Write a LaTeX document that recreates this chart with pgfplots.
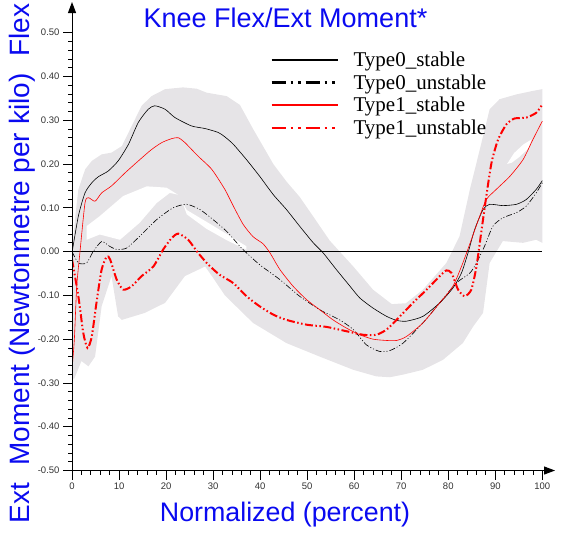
\documentclass[border=0pt]{standalone}
\usepackage{fontspec}
\setmainfont{Liberation Sans}
\newfontfamily\legfont{Liberation Serif}
\usepackage{pgfplots}
\pgfplotsset{compat=1.18}
\usetikzlibrary{arrows.meta}

\definecolor{band}{RGB}{230,228,231}
\definecolor{ttl}{RGB}{10,10,240}

\begin{document}
\begin{tikzpicture}
\begin{axis}[
    scale only axis,
    width=483pt, height=468.5pt,
    xmin=0, xmax=102.7,
    ymin=-0.5, ymax=0.57,
    axis lines=left,
    axis on top,
    axis line style={line width=1pt,-{Triangle[length=11pt,width=8pt]}},
    tick align=outside,
    major tick length=9pt, minor tick length=4pt,
    tick style={black, line width=0.8pt},
    xtick={0,10,20,30,40,50,60,70,80,90,100},
    ytick={-0.5,-0.4,-0.3,-0.2,-0.1,0,0.1,0.2,0.3,0.4,0.5},
    minor x tick num=4, minor y tick num=4,
    /pgf/number format/assume math mode=true,
    yticklabel style={/pgf/number format/.cd, fixed, fixed zerofill, precision=2},
    ticklabel style={font=\fontsize{9.5}{10}\selectfont, text=black!80},
    title={Knee Flex/Ext Moment*},
    title style={at={(axis description cs:0.442,0.954)}, anchor=center, font=\fontsize{27}{29}\selectfont, text=ttl},
    xlabel={Normalized (percent)},
    xlabel style={at={(axis description cs:0.441,-0.093)}, anchor=center, font=\fontsize{26.8}{28}\selectfont, text=ttl},
    ylabel={Ext\hspace{17pt}Moment (Newtonmetre per kilo)\hspace{17pt}Flex},
    ylabel style={at={(axis description cs:-0.1035,0.442)}, anchor=center, rotate=0, font=\fontsize{28}{30}\selectfont, text=ttl},
    legend style={at={(axis description cs:0.404,0.902)}, anchor=north west, draw=none, fill=none,
        font=\legfont\fontsize{21}{23}\selectfont, row sep=2.5pt},
    legend cell align=left,
    legend image code/.code={\draw[#1] (0pt,0pt) -- (66pt,0pt); \path[draw=none, fill=none] (0pt,0pt) rectangle (80pt,0.1pt);},
]
% grey envelope
\addplot[draw=none, fill=band, forget plot] coordinates {
(0,0.0)(0.7,0.08)(1.35,0.142)(2.8,0.188)(4.2,0.207)(6.3,0.222)(8.4,0.226)(10.6,0.241)
(12.7,0.287)(14.8,0.333)(16.9,0.355)(19.8,0.371)(23.6,0.375)(26.5,0.372)(28.6,0.363)
(32.9,0.355)(35.7,0.335)(38.5,0.28)(42.8,0.2)(45.6,0.16)(48.4,0.125)(51.3,0.08)
(54.8,0.025)(59.8,-0.034)(64,-0.087)(68,-0.12)(71,-0.118)(74.6,-0.087)(79.6,-0.026)
(82.4,0.035)(84.6,0.142)(86.7,0.233)(88.8,0.325)(90.9,0.348)(94.5,0.359)(98,0.367)(100,0.371)
(100,0.02)(98.7,0.027)(95.9,0.02)(91.6,0.024)(88.8,-0.026)(87.4,-0.14)(85.3,-0.171)
(83.1,-0.209)(78.9,-0.247)(74.6,-0.27)(70.4,-0.281)(67.6,-0.287)(64.7,-0.285)(59.8,-0.27)
(52.7,-0.24)(45.6,-0.209)(38.5,-0.163)(32.5,-0.1)(30,-0.06)(28.3,-0.034)(24,-0.056)
(19.8,-0.117)(15.5,-0.14)(10.6,-0.156)(9.8,-0.148)(9.1,-0.102)(8.4,-0.056)(6.3,-0.125)
(4.9,-0.24)(3.5,-0.262)(2,-0.25)(0.5,-0.29)(0,-0.29)
};
% white gaps inside the envelope
\addplot[draw=none, fill=white, forget plot] coordinates {
(3.1,0.058)(5.9,0.081)(10.9,0.127)(15.9,0.149)(20.1,0.146)(22.5,0.13)
(20.8,0.134)(18,0.111)(14.4,0.066)(10.2,0.027)(5.9,0.039)(3.1,0.027)
};
\addplot[draw=none, fill=white, forget plot] coordinates {
(23.5,0.112)(24.4,0.095)(28.6,0.068)(32.9,0.04)(37.1,0.012)
(37.1,0.004)(32.9,0.026)(28.6,0.052)(24.4,0.085)
};
\addplot[draw=none, fill=white, forget plot] coordinates {
(92.5,0.2)(94,0.225)(96,0.245)(97.7,0.256)(97,0.235)(95,0.215)(93.5,0.203)
};
% zero line
\addplot[black, line width=0.6pt, forget plot] coordinates {(0,0) (100,0)};

% Type0_stable
\addplot[black, line width=0.6pt, smooth, tension=0.4, forget plot] coordinates {
(0,-0.003)(1.35,0.081)(2.76,0.134)(4.2,0.157)(5.6,0.171)(7.7,0.184)(9.8,0.207)(12,0.245)
(14.1,0.295)(16.2,0.325)(17.6,0.333)(19.8,0.325)(21.9,0.306)(25.4,0.287)(28.3,0.281)
(31.1,0.272)(32.5,0.262)(34.3,0.245)(37.1,0.21)(39.9,0.172)(42.8,0.13)(45.6,0.096)
(48.4,0.058)(51.3,0.02)(53.4,-0.003)(56.2,-0.041)(59.1,-0.079)(61.2,-0.106)(64,-0.129)
(66.9,-0.148)(69,-0.157)(71.1,-0.159)(74.6,-0.148)(78.2,-0.117)(81,-0.083)(82.8,-0.049)
(84.2,-0.003)(85.6,0.05)(87.4,0.096)(88.8,0.108)(91.6,0.105)(94.5,0.108)(96.6,0.119)
(98.7,0.142)(100,0.162)
};
% Type0_unstable
\addplot[black, line width=0.6pt, smooth, tension=0.4, forget plot,
    dash pattern=on 6pt off 2pt on 1pt off 2pt on 1pt off 2pt] coordinates {
(0,0)(1.35,-0.026)(3.1,-0.026)(4.5,0)(6.3,0.023)(8,0.012)(9.5,0.005)(11.6,0.008)
(14.4,0.035)(18,0.073)(21.5,0.1)(24.4,0.108)(27.2,0.096)(30,0.073)(32.9,0.046)
(35.7,0.012)(37.1,-0.003)(39.9,-0.03)(44.2,-0.064)(48.4,-0.102)(52.7,-0.133)
(56.9,-0.156)(59.8,-0.178)(62.6,-0.213)(65.4,-0.228)(67.6,-0.226)(70.4,-0.209)
(74.6,-0.163)(78.2,-0.117)(81.7,-0.072)(84.6,-0.049)(86,-0.026)(87.7,0.012)(89.5,0.058)
(91.6,0.077)(94.5,0.089)(96.6,0.104)(98.7,0.134)(100,0.157)
};
% Type1_stable
\addplot[red, line width=0.6pt, smooth, tension=0.4, forget plot] coordinates {
(0,-0.27)(0.5,-0.2)(1,-0.08)(1.7,0.0)(2.76,0.111)(3.5,0.123)(4.9,0.115)(6.3,0.134)
(8.4,0.15)(11.3,0.18)(14.1,0.207)(16.9,0.233)(19.1,0.249)(21.2,0.258)(22.6,0.26)(24,0.249)
(26.8,0.218)(29.7,0.188)(32.5,0.142)(34.3,0.104)(36.4,0.062)(38.5,0.034)(40.6,0.018)
(42.1,-0.003)(44.2,-0.041)(47,-0.079)(49.9,-0.11)(52.7,-0.133)(55.5,-0.156)(58.4,-0.175)
(61.2,-0.19)(64,-0.2)(66.9,-0.203)(69,-0.203)(71.1,-0.194)(74.6,-0.163)(78.2,-0.117)
(81,-0.079)(83.1,-0.026)(84.9,0.027)(86.7,0.081)(88.1,0.119)(90.2,0.142)(93.1,0.172)
(95.9,0.21)(98,0.256)(100,0.298)
};
% Type1_unstable
\addplot[red, line width=2pt, smooth, tension=0.4, forget plot,
    dash pattern=on 8pt off 2.5pt on 1.5pt off 2.5pt on 1.5pt off 2.5pt] coordinates {
(0,-0.018)(1.35,-0.102)(2.4,-0.186)(3.3,-0.22)(4.2,-0.194)(5.2,-0.117)(6.3,-0.041)
(7.4,-0.011)(8.1,-0.018)(9.5,-0.064)(10.9,-0.087)(12.7,-0.079)(14.8,-0.056)(17.3,-0.034)
(19.4,0.005)(21.2,0.031)(22.6,0.041)(24.7,0.027)(26.8,-0.003)(29,-0.03)(31.4,-0.053)
(34.3,-0.072)(37.1,-0.102)(39.9,-0.125)(42.8,-0.144)(45.6,-0.156)(49.9,-0.167)
(54.1,-0.172)(58.4,-0.182)(61.9,-0.19)(64.7,-0.19)(66.9,-0.178)(69,-0.156)(72.5,-0.117)
(75.4,-0.087)(78.2,-0.056)(79.6,-0.043)(80.7,-0.049)(82.1,-0.087)(83.5,-0.102)
(84.9,-0.087)(86,-0.034)(87,0.043)(88.1,0.127)(89.2,0.203)(90.6,0.256)(92.4,0.291)
(94.1,0.304)(96.6,0.306)(98.7,0.317)(100,0.336)
};

\addlegendimage{black, line width=2.5pt}
\addlegendentry{Type0\_stable}
\addlegendimage{black, line width=2.5pt, dash pattern=on 14pt off 5pt on 2.5pt off 5pt on 2.5pt off 5pt}
\addlegendentry{Type0\_unstable}
\addlegendimage{red, line width=2.3pt}
\addlegendentry{Type1\_stable}
\addlegendimage{red, line width=2.5pt, dash pattern=on 14pt off 5pt on 2.5pt off 5pt on 2.5pt off 5pt}
\addlegendentry{Type1\_unstable}

\coordinate (bl) at (rel axis cs:-0.1491,-0.1313);
\coordinate (tr) at (rel axis cs:1.0186,1.0043);
\end{axis}
\pgfresetboundingbox
\path (bl) rectangle (tr);
\end{tikzpicture}
\end{document}
